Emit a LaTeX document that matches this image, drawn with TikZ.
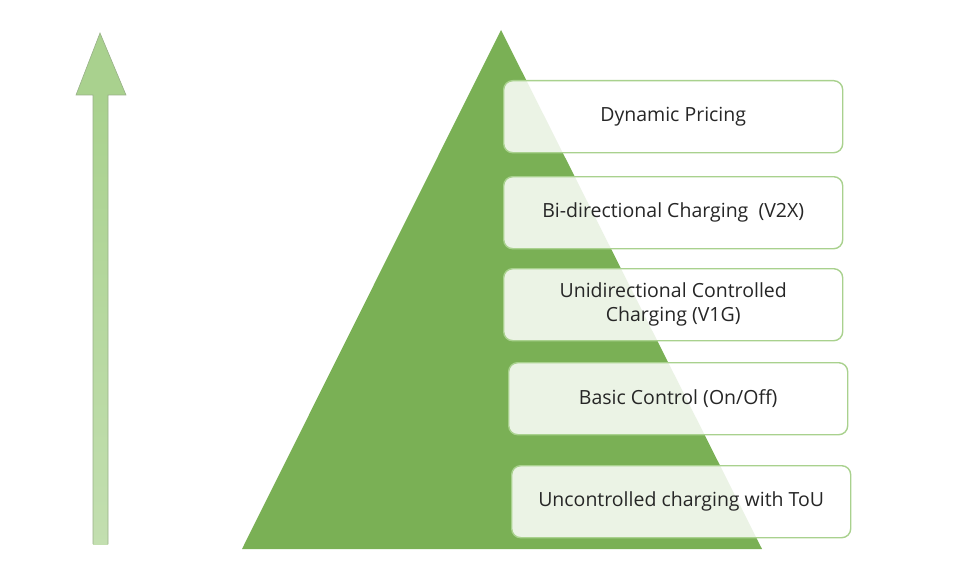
\documentclass[tikz,border=0pt]{standalone}
\usepackage{fontspec}
\setmainfont{Open Sans}
\begin{document}
\begin{tikzpicture}[x=1pt,y=-1pt,
  lvl/.style={draw=arr, line width=1.4pt, rounded corners=9pt, fill=white, fill opacity=0.85, text opacity=1, minimum width=339pt, minimum height=72pt, anchor=north west, align=center, font=\fontsize{19.5}{24}\selectfont, text=black!85}]
\definecolor{tri}{HTML}{7AB055}
\definecolor{arr}{HTML}{A9D18E}
\useasboundingbox (0,0) rectangle (954,578);
\fill[tri] (501,30) -- (762,549) -- (242,549) -- cycle;
\shade[top color=arr, bottom color=arr!70] (93,95) rectangle (108,544);
\fill[arr] (76,95) -- (100,33) -- (126,95) -- cycle;
\draw[arr!60!gray, line width=0.6pt] (93,544) -- (93,95) -- (76,95) -- (100,33) -- (126,95) -- (108,95) -- (108,544);
\node[lvl] (b1) at (503,80) {Dynamic Pricing};
\node[lvl] (b2) at (503,176) {Bi-directional Charging\ \ (V2X)};
\node[lvl] (b3) at (503,268) {Unidirectional Controlled\\Charging (V1G)};
\node[lvl] (b4) at (508,362) {Basic Control (On/Off)};
\node[lvl] (b5) at (511,465) {Uncontrolled charging with ToU};
\end{tikzpicture}
\end{document}
